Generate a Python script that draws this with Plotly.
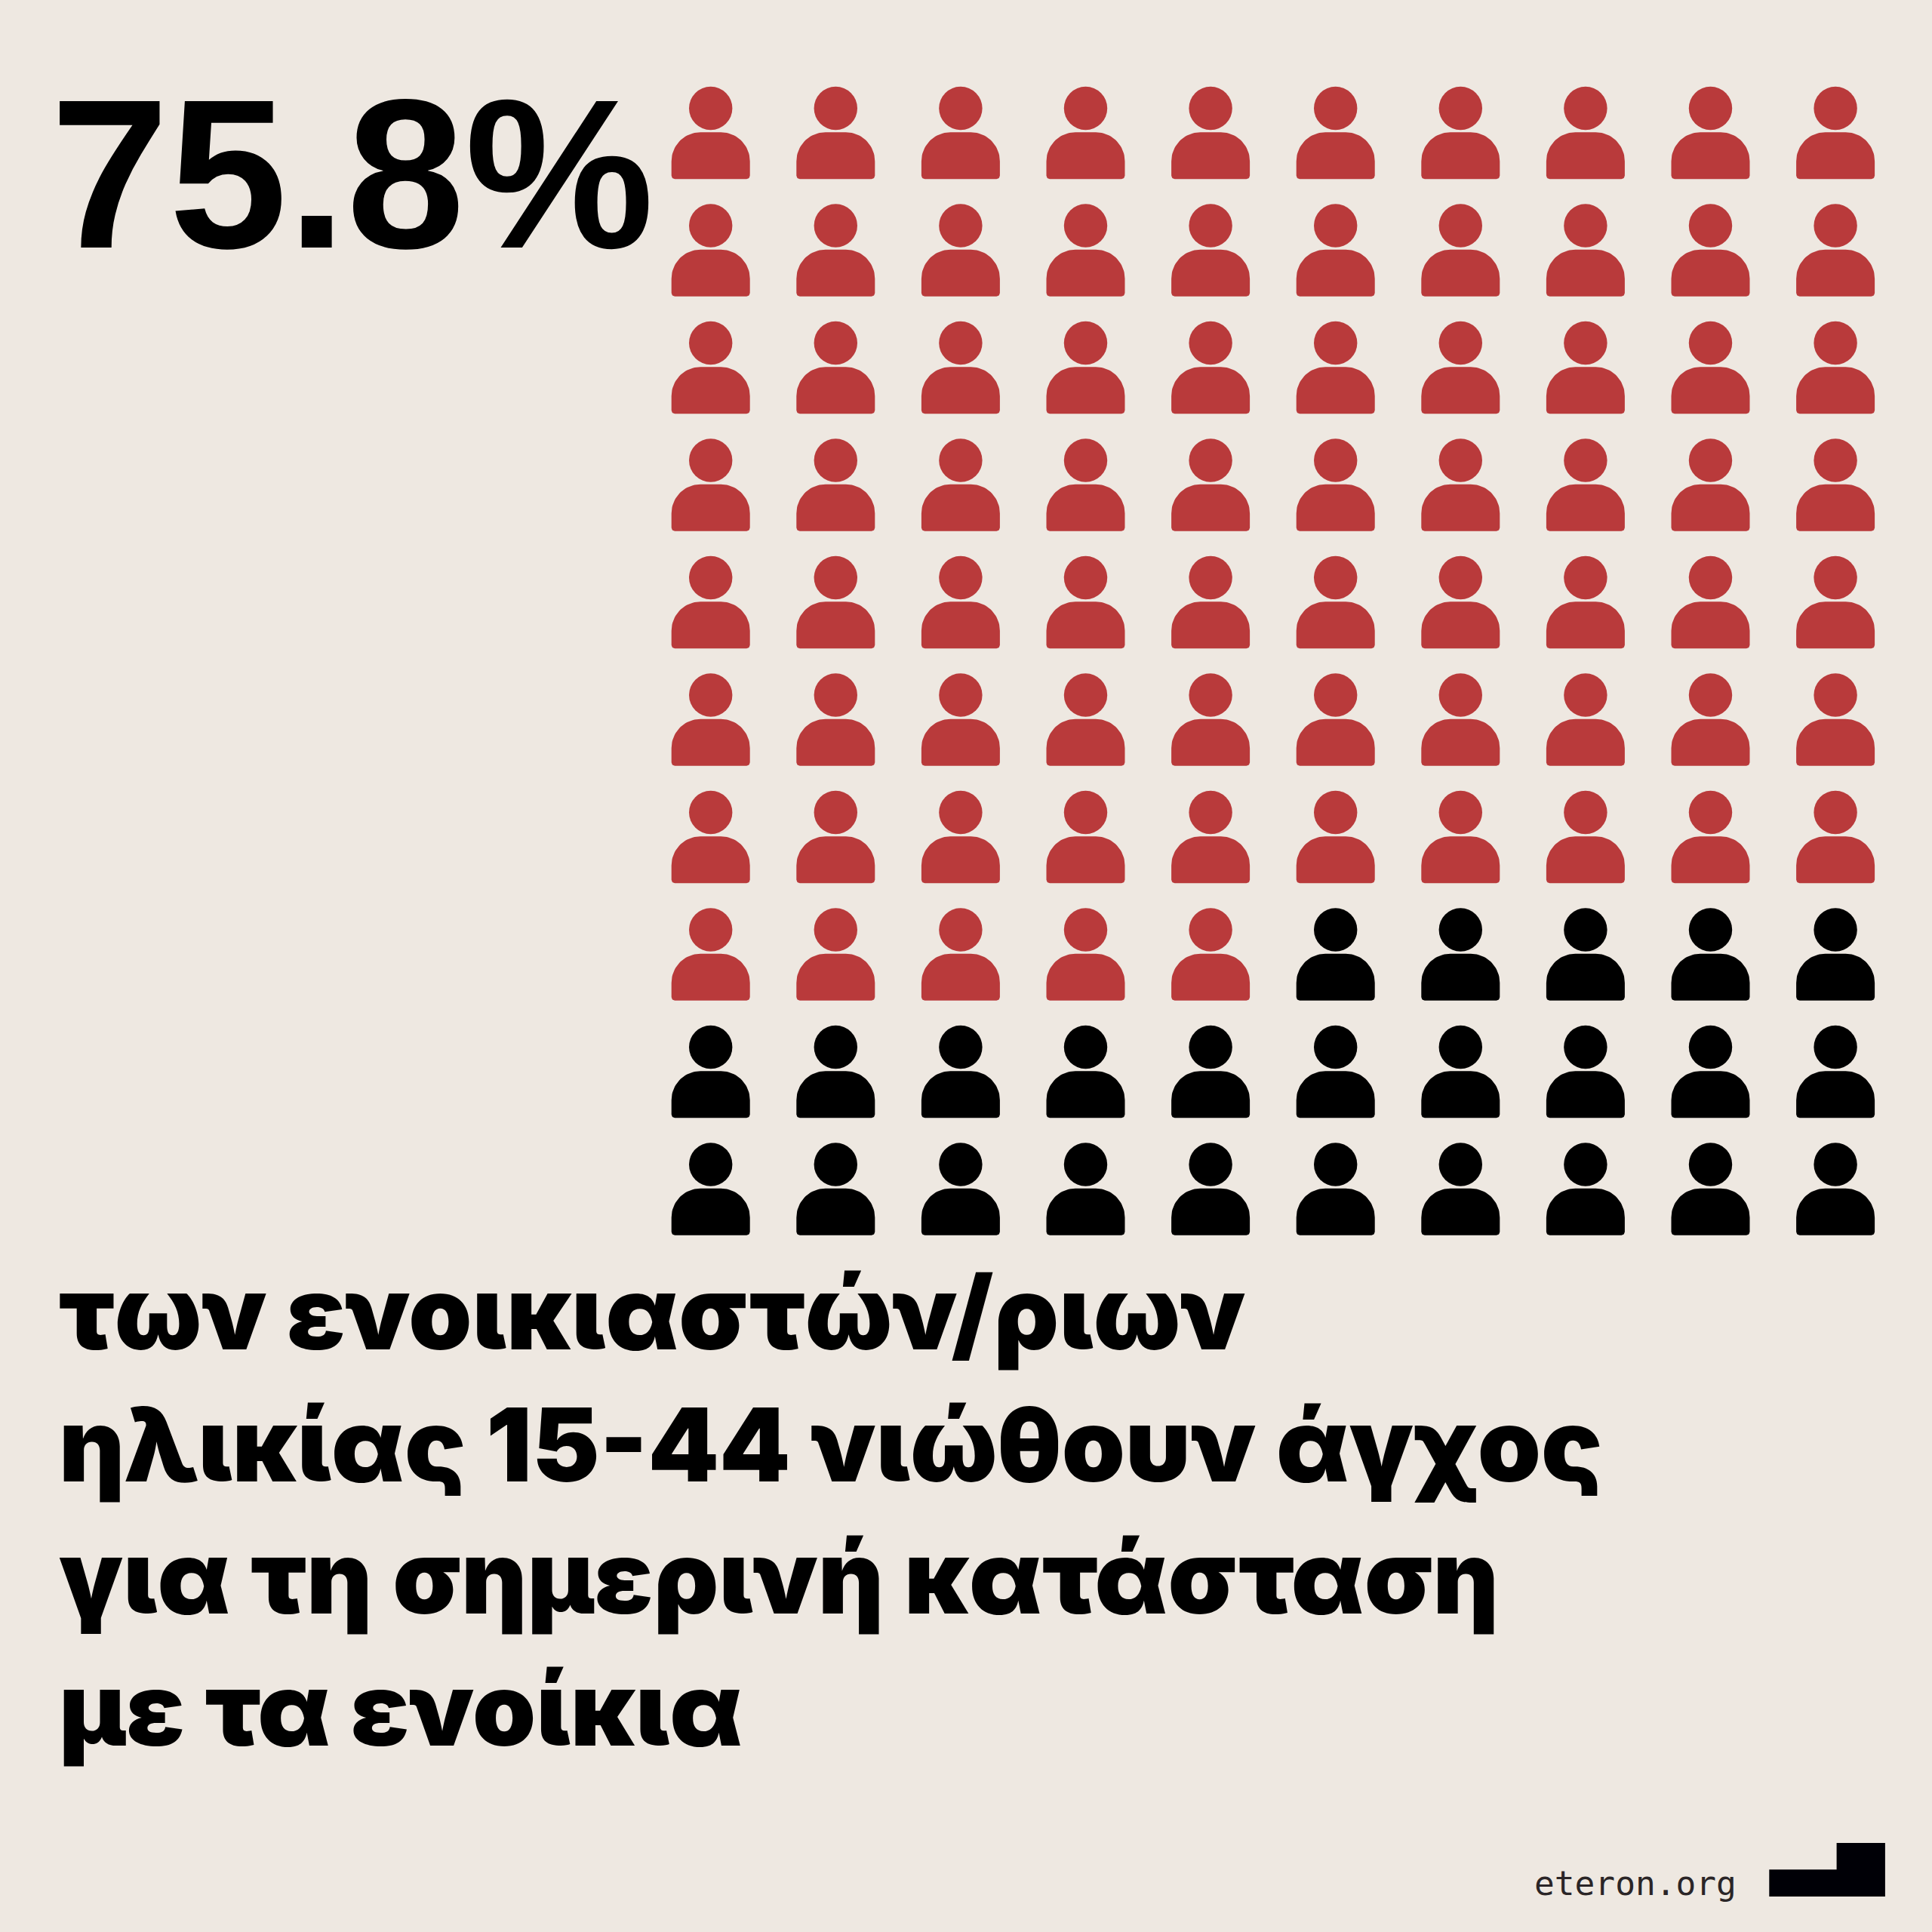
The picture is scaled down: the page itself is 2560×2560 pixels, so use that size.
import numpy as np
import plotly.graph_objects as go

# ---- data ----
share_label = "75.8%"
headline_lines = [
    "των ενοικιαστών/ριων",
    "ηλικίας 15-44 νιώθουν άγχος",
    "για τη σημερινή κατάσταση",
    "με τα ενοίκια",
]
source_label = "eteron.org"
n_columns = 10
red_per_row = [10, 10, 10, 10, 10, 10, 10, 5, 0, 0]

RED = "#B93A3B"
BLACK = "#000000"
BG = "#EEE8E1"
SIZE = 2560

# ---- px geometry of the pictogram grid ----
col_pitch, row_pitch = 165.6, 155.5
x0_px, y0_px = 941.7, 143.5
x_range = [-x0_px / col_pitch, (SIZE - x0_px) / col_pitch]
y_range = [(SIZE - y0_px) / row_pitch, -y0_px / row_pitch]


def arc(cx, cy, r, a0, a1, n=24):
    t = np.radians(np.linspace(a0, a1, n))
    return cx + r * np.cos(t), cy + r * np.sin(t)


def body_template():
    """body outline, px relative to head centre"""
    L, R, T, B = -52.0, 52.0, 31.7, 93.7
    rt, rb = 38.5, 4.5
    parts = [
        arc(L + rt, T + rt, rt, 180, 270),
        arc(R - rt, T + rt, rt, 270, 360),
        arc(R - rb, B - rb, rb, 0, 90, 8),
        arc(L + rb, B - rb, rb, 90, 180, 8),
    ]
    px = np.concatenate([p[0] for p in parts])
    py = np.concatenate([p[1] for p in parts])
    return np.append(px, px[0]) / col_pitch, np.append(py, py[0]) / row_pitch


bx, by = body_template()


def cells(red):
    out = []
    for r, k in enumerate(red_per_row):
        for c in range(n_columns):
            if (c < k) == red:
                out.append((c, r))
    return out


fig = go.Figure()
for is_red, colour in ((True, RED), (False, BLACK)):
    pts = cells(is_red)
    xs, ys = [], []
    for c, r in pts:
        xs += list(c + bx) + [None]
        ys += list(r + by) + [None]
    fig.add_trace(go.Scatter(x=xs, y=ys, mode="lines", fill="toself", fillcolor=colour,
                             line=dict(width=0, color=colour), hoverinfo="skip", showlegend=False))
    fig.add_trace(go.Scatter(x=[p[0] for p in pts], y=[p[1] for p in pts], mode="markers",
                             marker=dict(size=57.4, color=colour, line=dict(width=0)),
                             hoverinfo="skip", showlegend=False))

annotations = [dict(text=share_label, x=65 / SIZE, y=1 - 390 / SIZE, xref="paper", yref="paper",
                    xanchor="left", yanchor="bottom", showarrow=False,
                    font=dict(family="Liberation Sans", size=282, color="#000", weight=700))]
for i, line in enumerate(headline_lines):
    annotations.append(dict(text=line, x=76 / SIZE, y=1 - (1821.5 + i * 175.3) / SIZE, xref="paper", yref="paper",
                            xanchor="left", yanchor="bottom", showarrow=False,
                            font=dict(family="Inter", size=134.7, color="#000", weight=900)))
annotations.append(dict(text=source_label, x=2303 / SIZE, y=1 - 2523 / SIZE, xref="paper", yref="paper",
                        xanchor="right", yanchor="bottom", showarrow=False,
                        font=dict(family="DejaVu Sans Mono", size=44.5, color="#2A2527")))

logo = dict(type="path", xref="paper", yref="paper", line=dict(width=0), fillcolor="#000006",
            path="M {a} {b} L {c} {b} L {c} {d} L {e} {d} L {e} {f} L {a} {f} Z".format(
                a=2344.3 / SIZE, b=1 - 2477.3 / SIZE, c=2433.6 / SIZE, d=1 - 2442 / SIZE,
                e=2497.9 / SIZE, f=1 - 2513 / SIZE))

fig.update_layout(
    width=SIZE, height=SIZE, margin=dict(l=0, r=0, t=0, b=0, pad=0),
    paper_bgcolor=BG, plot_bgcolor=BG, showlegend=False,
    xaxis=dict(range=x_range, visible=False, fixedrange=True),
    yaxis=dict(range=y_range, visible=False, fixedrange=True),
    annotations=annotations, shapes=[logo],
)
fig.write_html("out.html", post_script="document.body.style.margin='0';document.body.style.background='%s';" % BG,
               config={"displayModeBar": False})
